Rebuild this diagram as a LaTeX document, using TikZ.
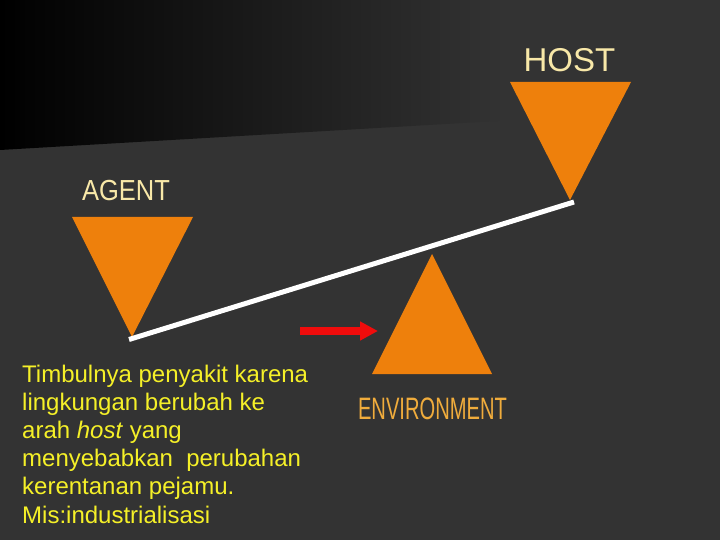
\documentclass[tikz,border=0pt]{standalone}
\usepackage{fontspec}
\setmainfont{Liberation Sans}
\usetikzlibrary{arrows.meta}
\definecolor{bgc}{RGB}{51,51,51}
\definecolor{tri}{RGB}{238,128,12}
\definecolor{lbl}{RGB}{248,232,168}
\definecolor{envc}{RGB}{240,172,60}
\definecolor{bodyc}{RGB}{245,240,40}
\definecolor{arrc}{RGB}{240,12,12}
\pgfdeclarehorizontalshading{darkfade}{100bp}{color(0bp)=(black); color(25bp)=(black); color(60bp)=(bgc); color(100bp)=(bgc)}
\tikzset{
  trifill/.style={fill=tri, draw=none},
  lbltext/.style={text=lbl, inner sep=0pt, anchor=base, font=\fontsize{33}{36}\selectfont},
}
\begin{document}
\begin{tikzpicture}[x=1pt,y=-1pt]
\useasboundingbox (0,0) rectangle (720,540);
\fill[bgc] (0,0) rectangle (720,540);
\shade[shading=darkfade] (0,0) -- (720,0) -- (720,108) -- (0,150) -- cycle;
% triangles
\coordinate (hostL) at (510,82); \coordinate (hostR) at (631,82); \coordinate (hostA) at (570,200);
\coordinate (agL) at (72,217); \coordinate (agR) at (193,217); \coordinate (agA) at (132,337);
\coordinate (envL) at (372,374); \coordinate (envR) at (492,374); \coordinate (envA) at (432,254);
\fill[trifill] (hostL) -- (hostR) -- (hostA) -- cycle;
\fill[trifill] (agL) -- (agR) -- (agA) -- cycle;
\fill[trifill] (envL) -- (envR) -- (envA) -- cycle;
% beam
\coordinate (beamS) at (129,339.5);
\coordinate (beamE) at (574,202);
\draw[white, line width=5pt] (beamS) -- (beamE);
% labels
\node[lbltext] (host) at (569.5,72) {HOST};
\node[lbltext, font=\fontsize{29}{32}\selectfont, xscale=0.88, transform shape] (agent) at (126,201) {AGENT};
\node[lbltext, text=envc, font=\fontsize{31}{34}\selectfont, xscale=0.65, transform shape] (env) at (432.5,419) {ENVIRONMENT};
% arrow
\coordinate (arrS) at (300,331);
\coordinate (arrE) at (378,331);
\draw[arrc, line width=8pt, -{Triangle[length=18pt,width=18pt]}] (arrS) -- (arrE);
% body text
\node[text=bodyc, inner sep=0pt, anchor=base west, align=left, font=\fontsize{24}{28.2}\selectfont] (body) at (22,523)
{Timbulnya penyakit karena\\lingkungan berubah ke\\arah \textit{host} yang\\menyebabkan\ \ perubahan\\kerentanan pejamu.\\Mis:industrialisasi};
\end{tikzpicture}
\end{document}
